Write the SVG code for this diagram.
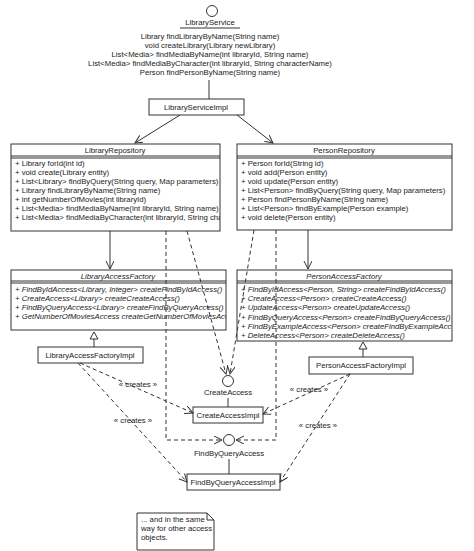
<svg xmlns="http://www.w3.org/2000/svg" width="474" height="551" viewBox="0 0 474 551">
<style>
text{font-family:"Liberation Sans",Arial,sans-serif;font-size:7.75px;fill:#222}
.c{text-anchor:middle}
.i{font-style:italic}
.box{fill:#fff;stroke:#333;stroke-width:1}
.ln{stroke:#333;stroke-width:1;fill:none}
.d{stroke:#333;stroke-width:1;fill:none;stroke-dasharray:4,3}
</style>
<defs>
<marker id="open" markerWidth="9" markerHeight="9" refX="8" refY="4" orient="auto" markerUnits="userSpaceOnUse">
<path d="M0,0 L8,4 L0,8" fill="none" stroke="#333" stroke-width="1"/>
</marker>
<clipPath id="clipLR"><rect x="11" y="144" width="209" height="87"/></clipPath>
<clipPath id="clipLAF"><rect x="11" y="270" width="215" height="60"/></clipPath>
<clipPath id="clipPAF"><rect x="237" y="270" width="215" height="71"/></clipPath>
</defs>
<rect width="474" height="551" fill="#fff"/>

<g id="LibraryService">
<circle cx="212" cy="11" r="5.5" class="box"/>
<text x="210" y="25" class="c">LibraryService</text>
<line x1="180" y1="28" x2="240" y2="28" class="ln"/>
<text x="210" y="39" class="c">Library findLibraryByName(String name)</text>
<text x="210" y="48" class="c">void createLibrary(Library newLibrary)</text>
<text x="210" y="57" class="c">List&lt;Media&gt; findMediaByName(int libraryId, String name)</text>
<text x="210" y="66" class="c">List&lt;Media&gt; findMediaByCharacter(int libraryId, String characterName)</text>
<text x="210" y="75" class="c">Person findPersonByName(String name)</text>
</g>

<g id="LibraryServiceImpl">
<rect x="149" y="99" width="95" height="16" class="box"/>
<text x="196" y="110" class="c">LibraryServiceImpl</text>
</g>

<g id="LibraryRepository">
<rect x="11" y="144" width="209" height="87" class="box"/>
<text x="115" y="153" class="c">LibraryRepository</text>
<line x1="11" y1="156" x2="220" y2="156" class="ln"/>
<line x1="11" y1="158" x2="220" y2="158" class="ln"/>
<g clip-path="url(#clipLR)">
<text x="15" y="166">+ Library forId(int id)</text>
<text x="15" y="175">+ void create(Library entity)</text>
<text x="15" y="184">+ List&lt;Library&gt; findByQuery(String query, Map parameters)</text>
<text x="15" y="193">+ Library findLibraryByName(String name)</text>
<text x="15" y="202">+ int getNumberOfMovies(int libraryId)</text>
<text x="15" y="211">+ List&lt;Media&gt; findMediaByName(int libraryId, String name)</text>
<text x="15" y="220">+ List&lt;Media&gt; findMediaByCharacter(int libraryId, String cha</text>
</g>
</g>

<g id="PersonRepository">
<rect x="237" y="144" width="215" height="86" class="box"/>
<text x="344" y="153" class="c">PersonRepository</text>
<line x1="237" y1="156" x2="452" y2="156" class="ln"/>
<line x1="237" y1="158" x2="452" y2="158" class="ln"/>
<text x="241" y="166">+ Person forId(String id)</text>
<text x="241" y="175">+ void add(Person entity)</text>
<text x="241" y="184">+ void update(Person entity)</text>
<text x="241" y="193">+ List&lt;Person&gt; findByQuery(String query, Map parameters)</text>
<text x="241" y="202">+ Person findPersonByName(String name)</text>
<text x="241" y="211">+ List&lt;Person&gt; findByExample(Person example)</text>
<text x="241" y="220">+ void delete(Person entity)</text>
</g>

<g id="LibraryAccessFactory">
<rect x="11" y="270" width="215" height="60" class="box"/>
<text x="118" y="279" class="c i">LibraryAccessFactory</text>
<line x1="11" y1="281" x2="226" y2="281" class="ln"/>
<line x1="11" y1="283" x2="226" y2="283" class="ln"/>
<g clip-path="url(#clipLAF)">
<text x="15" y="292" class="i">+ FindByIdAccess&lt;Library, Integer&gt; createFindByIdAccess()</text>
<text x="15" y="301" class="i">+ CreateAccess&lt;Library&gt; createCreateAccess()</text>
<text x="15" y="310" class="i">+ FindByQueryAccess&lt;Library&gt; createFindByQueryAccess()</text>
<text x="15" y="319" class="i">+ GetNumberOfMoviesAccess createGetNumberOfMoviesAcc</text>
</g>
</g>

<g id="PersonAccessFactory">
<rect x="237" y="270" width="215" height="71" class="box"/>
<text x="344" y="279" class="c i">PersonAccessFactory</text>
<line x1="237" y1="281" x2="452" y2="281" class="ln"/>
<line x1="237" y1="283" x2="452" y2="283" class="ln"/>
<g clip-path="url(#clipPAF)">
<text x="241" y="292" class="i">+ FindByIdAccess&lt;Person, String&gt; createFindByIdAccess()</text>
<text x="241" y="301" class="i">+ CreateAccess&lt;Person&gt; createCreateAccess()</text>
<text x="241" y="310" class="i">+ UpdateAccess&lt;Person&gt; createUpdateAccess()</text>
<text x="241" y="320" class="i">+ FindByQueryAccess&lt;Person&gt; createFindByQueryAccess()</text>
<text x="241" y="329" class="i">+ FindByExampleAccess&lt;Person&gt; createFindByExampleAcc</text>
<text x="241" y="338" class="i">+ DeleteAccess&lt;Person&gt; createDeleteAccess()</text>
</g>
</g>

<g id="LibraryAccessFactoryImpl">
<rect x="38" y="347" width="105" height="16" class="box"/>
<text x="90" y="358" class="c">LibraryAccessFactoryImpl</text>
</g>

<g id="PersonAccessFactoryImpl">
<rect x="309" y="357" width="104" height="17" class="box"/>
<text x="361" y="368" class="c">PersonAccessFactoryImpl</text>
</g>

<g id="CreateAccess">
<circle cx="228" cy="381" r="5.5" class="box"/>
<text x="228" y="395" class="c">CreateAccess</text>
</g>

<g id="CreateAccessImpl">
<rect x="193" y="407" width="70" height="16" class="box"/>
<text x="228" y="418" class="c">CreateAccessImpl</text>
</g>

<g id="FindByQueryAccess">
<circle cx="229" cy="440" r="5.5" class="box"/>
<text x="229" y="456" class="c">FindByQueryAccess</text>
</g>

<g id="FindByQueryAccessImpl">
<rect x="187" y="474" width="93" height="16" class="box"/>
<text x="233" y="485" class="c">FindByQueryAccessImpl</text>
</g>

<g id="note">
<path d="M137,513 L207,513 L214,520 L214,550 L137,550 Z M207,513 L207,520 L214,520" class="box"/>
<text x="141" y="522">... and in the same</text>
<text x="141" y="531">way for other access</text>
<text x="141" y="540">objects.</text>
</g>

<g id="connectors">
<line x1="209" y1="80" x2="209" y2="99" class="ln"/>
<line x1="180" y1="115" x2="135" y2="143" class="ln" marker-end="url(#open)"/>
<line x1="237" y1="115" x2="273" y2="143" class="ln" marker-end="url(#open)"/>
<line x1="110" y1="231" x2="110" y2="269" class="ln" marker-end="url(#open)"/>
<line x1="308" y1="230" x2="308" y2="269" class="ln" marker-end="url(#open)"/>
<line x1="94" y1="339" x2="94" y2="347" class="ln"/>
<polygon points="94,332 90,339 98,339" class="box"/>
<line x1="363" y1="349" x2="363" y2="357" class="ln"/>
<polygon points="363,342 359,349 367,349" class="box"/>
<line x1="228" y1="398" x2="228" y2="407" class="ln"/>
<line x1="229" y1="459" x2="229" y2="474" class="ln"/>
<path d="M166,231 L166,440 L222,440" class="d" marker-end="url(#open)"/>
<path d="M276,230 L276,440 L236,440" class="d" marker-end="url(#open)"/>
<line x1="187" y1="231" x2="226" y2="374" class="d" marker-end="url(#open)"/>
<line x1="254" y1="230" x2="230" y2="374" class="d" marker-end="url(#open)"/>
<line x1="80" y1="363" x2="193" y2="413" class="d" marker-end="url(#open)"/>
<line x1="78" y1="363" x2="187" y2="482" class="d" marker-end="url(#open)"/>
<line x1="350" y1="374" x2="263" y2="414" class="d" marker-end="url(#open)"/>
<line x1="350" y1="374" x2="280" y2="482" class="d" marker-end="url(#open)"/>
<text x="138" y="387" class="c">« creates »</text>
<text x="133" y="423" class="c">« creates »</text>
<text x="309" y="392" class="c">« creates »</text>
<text x="318" y="428" class="c">« creates »</text>
</g>
</svg>
